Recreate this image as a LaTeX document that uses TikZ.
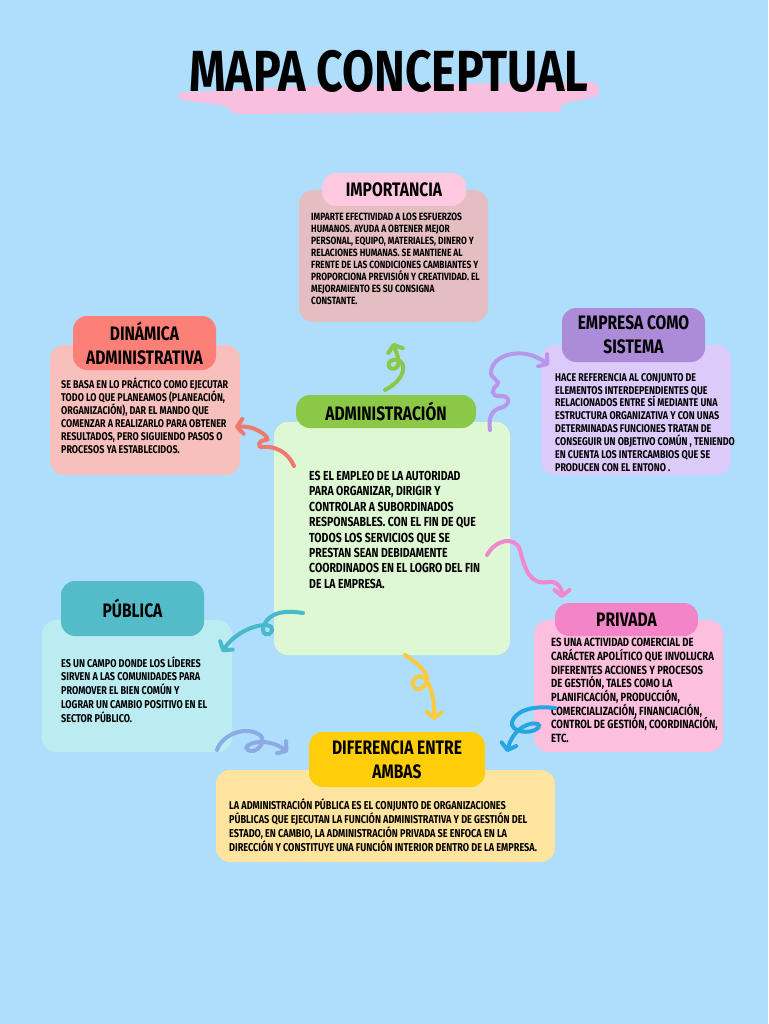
\documentclass[tikz,border=0pt]{standalone}
\usepackage{fontspec}
\setmainfont{Fira Sans}[FakeStretch=0.8]
\usetikzlibrary{arrows.meta}
\definecolor{bgblue}{RGB}{174,222,252}
\definecolor{brushpink}{RGB}{248,192,222}
\definecolor{impHead}{RGB}{255,200,225}
\definecolor{impBody}{RGB}{228,190,192}
\definecolor{dinHead}{RGB}{252,128,120}
\definecolor{dinBody}{RGB}{248,192,188}
\definecolor{empHead}{RGB}{172,140,216}
\definecolor{empBody}{RGB}{220,202,250}
\definecolor{admHead}{RGB}{140,200,72}
\definecolor{admBody}{RGB}{222,248,212}
\definecolor{pubHead}{RGB}{84,188,200}
\definecolor{pubBody}{RGB}{186,236,242}
\definecolor{priHead}{RGB}{244,132,200}
\definecolor{priBody}{RGB}{252,192,222}
\definecolor{difHead}{RGB}{255,206,10}
\definecolor{difBody}{RGB}{255,228,160}
\definecolor{sqGreen}{RGB}{140,200,72}
\definecolor{sqPurple}{RGB}{184,150,236}
\definecolor{sqCoral}{RGB}{240,120,110}
\definecolor{sqPink}{RGB}{240,136,206}
\definecolor{sqTeal}{RGB}{72,184,204}
\definecolor{sqYellow}{RGB}{250,202,64}
\definecolor{sqPeri}{RGB}{140,170,228}
\definecolor{sqBlue}{RGB}{40,164,224}

\begin{document}
\begin{tikzpicture}[x=1pt, y=-1pt,
    box/.style={rounded corners=14pt, inner sep=0pt},
    head/.style={rounded corners=14pt, inner sep=0pt, align=center, font=\fontsize{19.5}{24}\selectfont\bfseries},
    txt/.style={anchor=north west, align=left, inner sep=0pt},
    squig/.style={line width=4pt, line cap=round, -{Straight Barb[length=6pt, width=15pt, round]}}
  ]
  \fill[bgblue] (0,0) rectangle (768,1024);
  \useasboundingbox (0,0) rectangle (768,1024);
  \fill[brushpink, rounded corners=6pt] (176,93) -- (300,86) -- (598,82) -- (600,96) -- (560,104) -- (562,112) -- (232,114) -- (228,106) -- (180,100) -- cycle;
  \node[font=\fontsize{58}{58}\selectfont\bfseries] (title) at (389,71) {MAPA CONCEPTUAL};

  \foreach \n/\cx/\cy/\w/\h in {imp/393.5/256/189/132, din/145/410/190/130, emp/636/410/190/130,
      adm/392/538.5/236/233, pub/137/686/190/132, pri/628.5/686/189/132, dif/385.5/816/339/92}
    \node[box, fill=\n Body, minimum width=\w pt, minimum height=\h pt] (\n Box) at (\cx,\cy) {};

  \node[head, fill=impHead, minimum width=144pt, minimum height=33pt] (impHd) at (394,189.5) {IMPORTANCIA};
  \node[head, fill=dinHead, minimum width=143pt, minimum height=54pt] (dinHd) at (144.5,343) {DINÁMICA\\ADMINISTRATIVA};
  \node[head, fill=empHead, minimum width=143pt, minimum height=54pt] (empHd) at (633.5,335) {EMPRESA COMO\\SISTEMA};
  \node[head, fill=admHead, minimum width=180pt, minimum height=33pt] (admHd) at (386,411.5) {ADMINISTRACIÓN};
  \node[head, fill=pubHead, minimum width=143pt, minimum height=55pt] (pubHd) at (132.5,608.5) {PÚBLICA};
  \node[head, fill=priHead, minimum width=143pt, minimum height=33pt] (priHd) at (626.5,619.5) {PRIVADA};
  \node[head, fill=difHead, minimum width=176pt, minimum height=55pt] (difHd) at (397,759.5) {DIFERENCIA ENTRE\\AMBAS};

  \node[txt, font=\fontsize{10.5}{12}\selectfont\bfseries] (impTxt) at (311,213) {IMPARTE EFECTIVIDAD A LOS ESFUERZOS\\HUMANOS. AYUDA A OBTENER MEJOR\\PERSONAL, EQUIPO, MATERIALES, DINERO Y\\RELACIONES HUMANAS. SE MANTIENE AL\\FRENTE DE LAS CONDICIONES CAMBIANTES Y\\PROPORCIONA PREVISIÓN Y CREATIVIDAD. EL\\MEJORAMIENTO ES SU CONSIGNA\\CONSTANTE.};
  \node[txt, font=\fontsize{11.2}{13}\selectfont\bfseries] (dinTxt) at (61,378) {SE BASA EN LO PRÁCTICO COMO EJECUTAR\\TODO LO QUE PLANEAMOS (PLANEACIÓN,\\ORGANIZACIÓN), DAR EL MANDO QUE\\COMENZAR A REALIZARLO PARA OBTENER\\RESULTADOS, PERO SIGUIENDO PASOS O\\PROCESOS YA ESTABLECIDOS.};
  \node[txt, font=\fontsize{11.2}{12.9}\selectfont\bfseries] (empTxt) at (555,373) {HACE REFERENCIA AL CONJUNTO DE\\ELEMENTOS INTERDEPENDIENTES QUE\\RELACIONADOS ENTRE SÍ MEDIANTE UNA\\ESTRUCTURA ORGANIZATIVA Y CON UNAS\\DETERMINADAS FUNCIONES TRATAN DE\\CONSEGUIR UN OBJETIVO COMÚN , TENIENDO\\EN CUENTA LOS INTERCAMBIOS QUE SE\\PRODUCEN CON EL ENTONO .};
  \node[txt, font=\fontsize{13.1}{15.4}\selectfont\bfseries] (admTxt) at (309,471) {ES EL EMPLEO DE LA AUTORIDAD\\PARA ORGANIZAR, DIRIGIR Y\\CONTROLAR A SUBORDINADOS\\RESPONSABLES. CON EL FIN DE QUE\\TODOS LOS SERVICIOS QUE SE\\PRESTAN SEAN DEBIDAMENTE\\COORDINADOS EN EL LOGRO DEL FIN\\DE LA EMPRESA.};
  \node[txt, font=\fontsize{11.3}{13.75}\selectfont\bfseries] (pubTxt) at (61,656) {ES UN CAMPO DONDE LOS LÍDERES\\SIRVEN A LAS COMUNIDADES PARA\\PROMOVER EL BIEN COMÚN Y\\LOGRAR UN CAMBIO POSITIVO EN EL\\SECTOR PÚBLICO.};
  \node[txt, font=\fontsize{11.9}{13.7}\selectfont\bfseries] (priTxt) at (551,638) {ES UNA ACTIVIDAD COMERCIAL DE\\CARÁCTER APOLÍTICO QUE INVOLUCRA\\DIFERENTES ACCIONES Y PROCESOS\\DE GESTIÓN, TALES COMO LA\\PLANIFICACIÓN, PRODUCCIÓN,\\COMERCIALIZACIÓN, FINANCIACIÓN,\\CONTROL DE GESTIÓN, COORDINACIÓN,\\ETC.};
  \node[txt, font=\fontsize{11.4}{14}\selectfont\bfseries] (difTxt) at (229,798) {LA ADMINISTRACIÓN PÚBLICA ES EL CONJUNTO DE ORGANIZACIONES\\PÚBLICAS QUE EJECUTAN LA FUNCIÓN ADMINISTRATIVA Y DE GESTIÓN DEL\\ESTADO, EN CAMBIO, LA ADMINISTRACIÓN PRIVADA SE ENFOCA EN LA\\DIRECCIÓN Y CONSTITUYE UNA FUNCIÓN INTERIOR DENTRO DE LA EMPRESA.};

  \coordinate (gA) at (385,390);  \coordinate (gB) at (393,343);
  \coordinate (vA) at (490,430);  \coordinate (vB) at (549,365);
  \coordinate (cA) at (294,466);  \coordinate (cB) at (235,427);
  \coordinate (kA) at (487,555);  \coordinate (kB) at (562,598);
  \coordinate (yA) at (405,655);  \coordinate (yB) at (434,720);
  \coordinate (tA) at (303,613);  \coordinate (tB) at (222,652);
  \coordinate (pA) at (217,750);  \coordinate (pB) at (288,752);
  \coordinate (bA) at (555,708);  \coordinate (bB) at (507,752);

  \draw[squig, sqGreen] (gA) .. controls (405,380) and (408,362) .. (397,360) .. controls (386,358) and (386,372) .. (396,368) .. controls (402,364) and (396,352) .. (gB);
  \draw[squig, sqPurple] (vA) .. controls (488,418) and (492,410) .. (500,408) .. controls (512,405) and (510,395) .. (500,396) .. controls (490,397) and (492,388) .. (497,385) .. controls (502,382) and (490,378) .. (491,372) .. controls (492,355) and (522,345) .. (vB);
  \draw[squig, sqCoral] (cA) .. controls (288,452) and (275,446) .. (264,447) .. controls (256,448) and (258,440) .. (266,440) .. controls (272,440) and (258,425) .. (cB);
  \draw[squig, sqPink] (kA) .. controls (495,540) and (515,535) .. (520,550) .. controls (525,570) and (530,585) .. (548,582) .. controls (558,580) and (562,590) .. (kB);
  \draw[squig, sqYellow] (yA) .. controls (420,665) and (432,675) .. (425,685) .. controls (418,695) and (408,685) .. (415,678) .. controls (425,670) and (435,690) .. (yB);
  \draw[squig, sqTeal] (tA) .. controls (285,610) and (270,612) .. (264,625) .. controls (260,635) and (270,638) .. (272,630) .. controls (274,620) and (240,625) .. (tB);
  \draw[squig, sqPeri] (pA) .. controls (222,735) and (245,725) .. (260,735) .. controls (268,742) and (255,755) .. (248,750) .. controls (240,745) and (265,735) .. (pB);
  \draw[squig, sqBlue] (bA) .. controls (530,705) and (515,712) .. (512,722) .. controls (510,732) and (530,735) .. (538,728) .. controls (545,720) and (515,720) .. (bB);
\end{tikzpicture}
\end{document}
